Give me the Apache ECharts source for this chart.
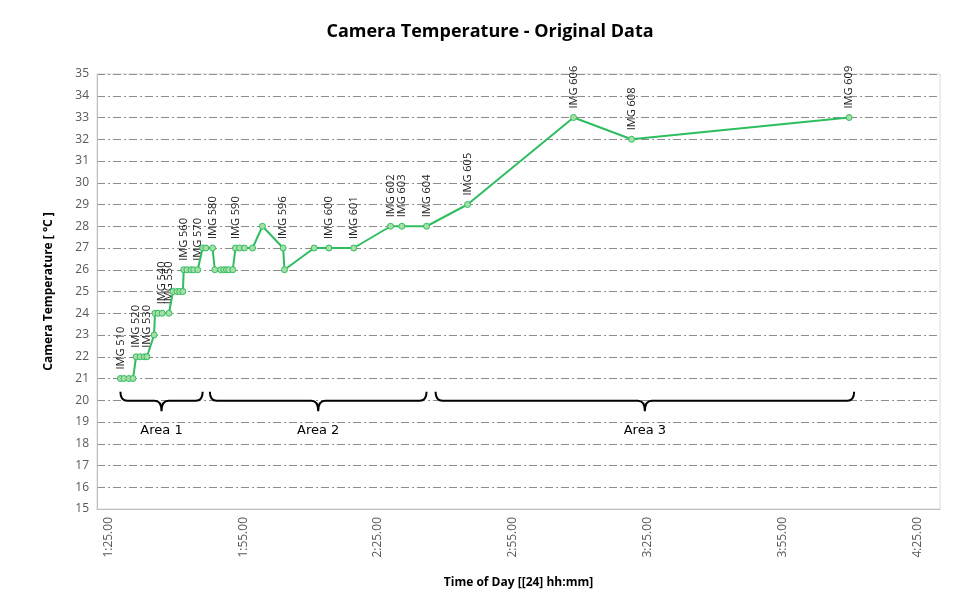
<!DOCTYPE html><html><head><meta charset="utf-8">
<script src="https://cdn.jsdelivr.net/npm/echarts@6/dist/echarts.min.js"></script>
<style>html,body{margin:0;background:#fff}#c{width:980px;height:594px}</style></head><body><div id="c"></div>
<script>
// time in minutes since midnight
const minutes=[87.7,88.5,89.6,90.5,91.2,92.1,93.0,93.6,95.2,95.4,96.1,97.0,98.5,99.4,100.3,100.9,101.6,101.8,102.5,103.4,104.0,104.9,106.0,106.7,108.2,108.7,110.0,110.7,111.3,111.8,112.7,113.3,114.2,115.3,117.1,119.3,123.9,124.2,130.8,134.1,139.6,147.8,150.3,155.8,164.9,188.5,201.4,249.8];
const temps=[21,21,21,21,22,22,22,22,23,24,24,24,24,25,25,25,25,26,26,26,26,26,27,27,27,26,26,26,26,26,26,27,27,27,27,28,27,26,27,27,27,28,28,28,29,33,32,33];
const imgLabels=[[87.7,21,'IMG 510'],[91.2,22,'IMG 520'],[93.6,22,'IMG 530'],[97.0,24,'IMG 540'],[98.5,24,'IMG 550'],[101.8,26,'IMG 560'],[104.9,26,'IMG 570'],[108.2,27,'IMG 580'],[113.3,27,'IMG 590'],[123.9,27,'IMG 596'],[134.1,27,'IMG 600'],[139.6,27,'IMG 601'],[147.8,28,'IMG 602'],[150.3,28,'IMG 603'],[155.8,28,'IMG 604'],[164.9,29,'IMG 605'],[188.5,33,'IMG 606'],[201.4,32,'IMG 608'],[249.8,33,'IMG 609']];
const areas=[[87.7,106.0,'Area 1'],[107.6,155.8,'Area 2'],[157.8,250.9,'Area 3']];
const fmt=v=>{const h=Math.floor(v/60),m=Math.round(v%60);return h+':'+String(m).padStart(2,'0')+'.00';};
const chart=echarts.init(document.getElementById('c'));
chart.setOption({
 animation:false,
 title:{text:'Camera Temperature - Original Data',left:'center',top:18,textStyle:{fontFamily:'Open Sans',fontWeight:'bold',fontSize:18,color:'#000'}},
 grid:{left:97,right:40,top:74,bottom:85,show:true,borderColor:'#d9d9d9'},
 xAxis:{type:'value',min:82.5,max:270,name:'Time of Day [[24] hh:mm]',nameLocation:'middle',nameGap:68,
  nameTextStyle:{fontFamily:'Open Sans',fontWeight:'bold',fontSize:12,color:'#000'},
  axisLine:{lineStyle:{color:'#bfbfbf'}},axisTick:{show:false},splitLine:{show:false},
  axisLabel:{customValues:[85,115,145,175,205,235,265],rotate:90,formatter:fmt,fontFamily:'Open Sans',fontSize:12,color:'#595959'}},
 yAxis:{type:'value',min:15,max:35,interval:1,name:'Camera Temperature [ °C ]',nameLocation:'middle',nameGap:42,
  nameTextStyle:{fontFamily:'Open Sans',fontWeight:'bold',fontSize:12,color:'#000'},
  axisLine:{show:true,lineStyle:{color:'#bfbfbf'}},axisTick:{show:false},
  axisLabel:{fontFamily:'Open Sans',fontSize:12,color:'#595959'},
  splitLine:{lineStyle:{color:'#8c8c8c',type:[8,3,2,3]}}},
 series:[
  {type:'line',data:minutes.map((m,i)=>[m,temps[i]]),symbol:'circle',symbolSize:6,
   lineStyle:{color:'#2ebd5f',width:2},itemStyle:{color:'#a8dfa8',borderColor:'#2ebd5f',borderWidth:1}},
  {type:'custom',data:imgLabels,renderItem:(params,api)=>{
    const c=api.coord([api.value(0),api.value(1)]);
    return {type:'text',x:c[0],y:c[1]-9,rotation:Math.PI/2,
     style:{text:imgLabels[params.dataIndex][2],textAlign:'left',textVerticalAlign:'middle',fontFamily:'Open Sans',fontSize:11,fill:'#1a1a1a'}};
  }},
  {type:'custom',data:areas,renderItem:(params,api)=>{
    const a=api.coord([api.value(0),20.3]),b=api.coord([api.value(1),20.3]);
    const tip=api.coord([(api.value(0)+api.value(1))/2,19.5]);
    const mid=(a[0]+b[0])/2,y=a[1],r=7;
    const p=`M${a[0]} ${y-2} Q${a[0]} ${y+r} ${a[0]+r} ${y+r} L${mid-r} ${y+r} Q${mid} ${y+r} ${mid} ${tip[1]} Q${mid} ${y+r} ${mid+r} ${y+r} L${b[0]-r} ${y+r} Q${b[0]} ${y+r} ${b[0]} ${y-2}`;
    const t=api.coord([(api.value(0)+api.value(1))/2,18.6]);
    return {type:'group',children:[
     {type:'path',shape:{pathData:p},style:{fill:null,stroke:'#000',lineWidth:2}},
     {type:'text',x:t[0],y:t[1],style:{text:areas[params.dataIndex][2],textAlign:'center',textVerticalAlign:'middle',fontFamily:'DejaVu Sans',fontSize:13,fill:'#000'}}]};
  }}
 ]
});
</script></body></html>
